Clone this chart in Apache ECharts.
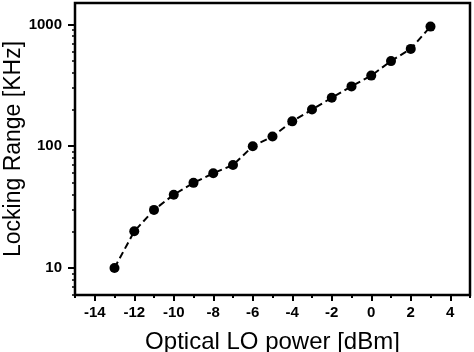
<!DOCTYPE html>
<html>
<head>
<meta charset="utf-8">
<script src="https://cdn.jsdelivr.net/npm/echarts@6/dist/echarts.min.js"></script>
<style>html,body{margin:0;padding:0;background:#fff}#c{width:474px;height:352px}</style>
</head>
<body>
<div id="c"></div>
<script>
const powerDbm = [-13,-12,-11,-10,-9,-8,-7,-6,-5,-4,-3,-2,-1,0,1,2,3];
const lockingKHz = [10,20,30,40,50,60,70,100,120,160,200,250,310,380,500,630,960];
const xMajorTicks = [-14,-12,-10,-8,-6,-4,-2,0,2,4];
const xMinorTicks = [-15,-13,-11,-9,-7,-5,-3,-1,1,3,5];
const yMajorTicks = [10,100,1000];
const yMinorTicks = [6,7,8,9,20,30,40,50,60,70,80,90,200,300,400,500,600,700,800,900];

const FONT = '"Liberation Sans", Arial, sans-serif';
const chart = echarts.init(document.getElementById('c'), null, {renderer:'canvas'});
const xBase = {type:'value', min:-15, max:5, position:'bottom', splitLine:{show:false},
  axisLine:{show:true, onZero:false, lineStyle:{color:'#000', width:2}}};
const yBase = {type:'log', logBase:10, min:6, max:1500, position:'left', splitLine:{show:false},
  axisLine:{show:true, onZero:false, lineStyle:{color:'#000', width:2}}};
chart.setOption({
  animation:false,
  grid:{left:75, right:4, top:3, bottom:57, outerBoundsMode:'none', containLabel:false,
        show:true, borderColor:'#000', borderWidth:2.5, backgroundColor:'transparent'},
  xAxis:[
    Object.assign({}, xBase, {
      name:'Optical LO power [dBm]', nameLocation:'middle', nameGap:35, nameMoveOverlap:false,
      nameTextStyle:{fontFamily:FONT, fontSize:24, color:'#000'},
      axisTick:{show:true, inside:false, length:6, lineStyle:{color:'#000', width:2}, customValues:xMajorTicks},
      axisLabel:{show:true, margin:10, fontFamily:FONT, fontWeight:'bold', fontSize:15, color:'#000', customValues:xMajorTicks}
    }),
    Object.assign({}, xBase, {
      axisTick:{show:true, inside:false, length:3, lineStyle:{color:'#000', width:2}, customValues:xMinorTicks},
      axisLabel:{show:false}
    })
  ],
  yAxis:[
    Object.assign({}, yBase, {
      name:'Locking Range [KHz]', nameLocation:'middle', nameGap:50, nameMoveOverlap:false,
      nameTextStyle:{fontFamily:FONT, fontSize:23, color:'#000'},
      axisTick:{show:true, inside:false, length:7, lineStyle:{color:'#000', width:2}, customValues:yMajorTicks},
      axisLabel:{show:true, margin:13, fontFamily:FONT, fontWeight:'bold', fontSize:15, color:'#000',
        customValues:yMajorTicks, formatter:(v)=>String(Math.round(v))}
    }),
    Object.assign({}, yBase, {
      axisTick:{show:true, inside:false, length:3, lineStyle:{color:'#000', width:1.5}, customValues:yMinorTicks},
      axisLabel:{show:false}
    })
  ],
  series:[{
    type:'line', xAxisIndex:0, yAxisIndex:0,
    data: powerDbm.map((x,i)=>[x, lockingKHz[i]]),
    symbol:'circle', symbolSize:10,
    itemStyle:{color:'#000'},
    lineStyle:{color:'#000', width:2, type:[7,4]}
  }]
});
</script>
</body>
</html>
